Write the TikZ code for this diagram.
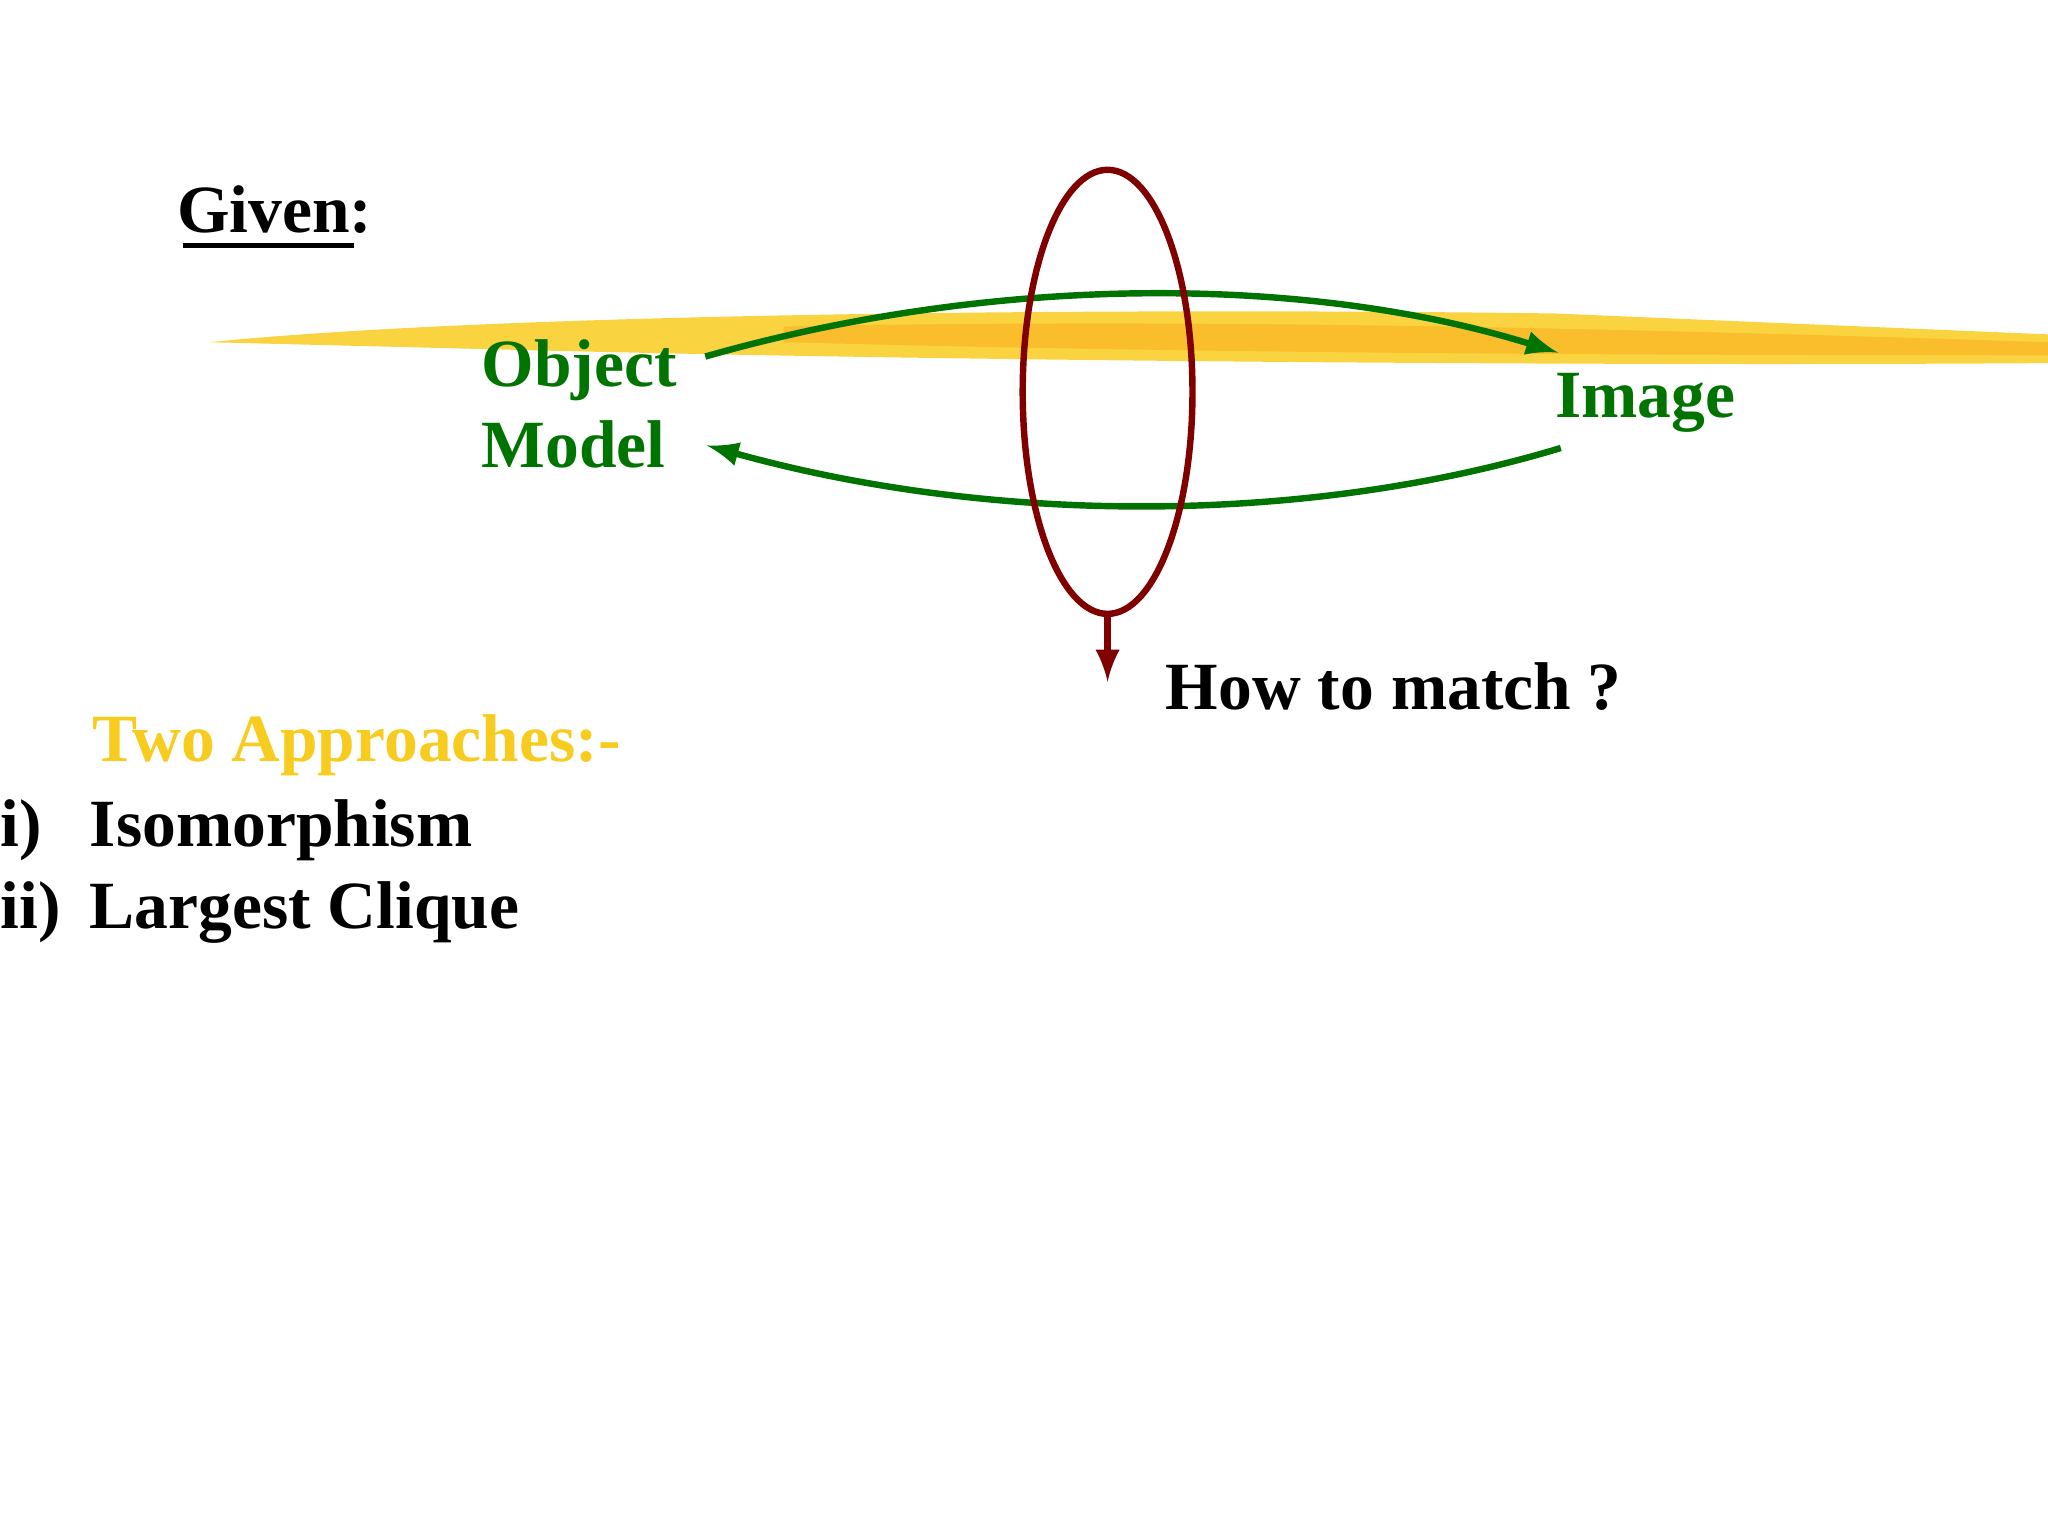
\documentclass[tikz,border=0pt]{standalone}
\usepackage{fontspec}
\setmainfont{Liberation Serif}
\begin{document}
\begin{tikzpicture}[x=0.01cm,y=-0.01cm,
  txt/.style={anchor=base west,inner sep=0pt,font=\fontsize{14.7}{17}\selectfont\bfseries},
  garrow/.style={draw=green!45!black,line width=1.4pt,-latex},
  red/.style={draw=red!50!black,line width=1.4pt}]
\definecolor{gold}{RGB}{248,204,30}
\useasboundingbox (0,0) rectangle (1568,1176);
% brush stroke
\fill[gold,opacity=0.85] (160,262) .. controls (400,238) and (900,236) .. (1190,240) -- (1568,256) -- (1568,278) .. controls (1300,280) and (800,278) .. (400,268) -- cycle;
\fill[orange!70!gold,opacity=0.35] (600,250) .. controls (900,244) and (1200,250) .. (1568,262) -- (1568,272) .. controls (1200,272) and (900,270) .. (600,262) -- cycle;
\node[txt] (given) at (135,178) {Given:};
\draw[line width=1pt] (140,188) -- (271,188);
\node[txt,text=green!45!black] (obj) at (368,296) {Object};
\node[txt,text=green!45!black] (mod) at (368,358) {Model};
\node[txt,text=green!45!black] (img) at (1190,320) {Image};
\coordinate (a1) at (540,273); \coordinate (a2) at (1193,270);
\coordinate (b1) at (1195,343); \coordinate (b2) at (541,341);
\draw[garrow] (a1) .. controls (760,210) and (1000,210) .. (a2);
\draw[garrow] (b1) .. controls (1000,402) and (760,402) .. (b2);
\draw[red] (848,300) ellipse [x radius=65,y radius=170];
\coordinate (e) at (848,470); \coordinate (f) at (848,522);
\draw[red,-latex] (e) -- (f);
\node[txt] (how) at (892,543) {How to match ?};
\node[txt,text=gold] (two) at (70,583) {Two Approaches:-};
\node[txt] (i) at (0,648) {i)};
\node[txt] (iso) at (68,648) {Isomorphism};
\node[txt] (ii) at (0,711) {ii)};
\node[txt] (lc) at (68,711) {Largest Clique};
\end{tikzpicture}
\end{document}
